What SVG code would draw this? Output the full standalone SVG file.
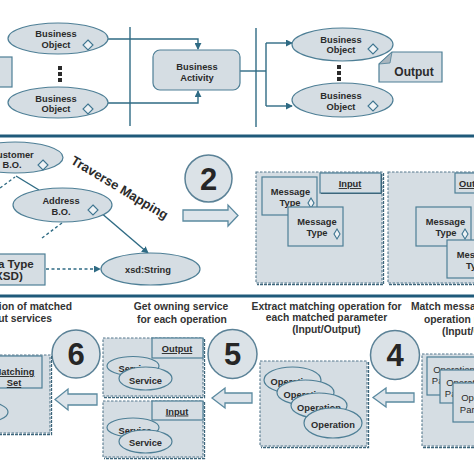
<svg xmlns="http://www.w3.org/2000/svg" width="474" height="474" viewBox="0 0 474 474">
<defs>
<style>
.t{font-family:"Liberation Sans",Arial,sans-serif;font-weight:bold;font-size:9.3px;fill:#2b2b2b;text-anchor:middle}
.tr{font-family:"Liberation Sans",Arial,sans-serif;font-size:9.5px;fill:#2b2b2b;text-anchor:middle}
.d{font-family:"Liberation Sans",Arial,sans-serif;font-weight:bold;font-size:10.3px;fill:#333;text-anchor:middle}
.n{font-family:"Liberation Sans",Arial,sans-serif;font-weight:bold;font-size:31px;fill:#262626;text-anchor:middle}
.sh{fill:#d5dde3;stroke:#4e7f96;stroke-width:1.2}
.dash{fill:#d5dde3;stroke:#56798e;stroke-width:1.1;stroke-dasharray:2.5,1.5}
.shadow{fill:none;stroke:#3d667b;stroke-width:1.3;stroke-dasharray:3,1}
.dia{fill:#eef2f5;stroke:#3e7590;stroke-width:1.1}
.con{fill:none;stroke:#2f6b84;stroke-width:1.4}
.cond{fill:none;stroke:#2f6b84;stroke-width:1.4;stroke-dasharray:3,2.5}
.sep{stroke:#1f5a7a;stroke-width:3}
.circ{fill:#dbe2e7;stroke:#5b8297;stroke-width:1.5}
.blk{fill:#dde4ea;stroke:#5b8aa0;stroke-width:1.3}
.ul{text-decoration:underline}
</style>
<marker id="ah" viewBox="0 0 8 8" refX="7" refY="4" markerWidth="7" markerHeight="7" markerUnits="userSpaceOnUse" orient="auto">
<path d="M0,0 L8,4 L0,8 z" fill="#2f6b84"/>
</marker>
</defs>
<rect width="474" height="474" fill="#ffffff"/>

<!-- section separators -->
<line class="sep" x1="0" y1="136" x2="474" y2="136"/>
<line class="sep" x1="0" y1="296" x2="474" y2="296"/>

<!-- ===== connectors ===== -->
<g id="connectors">
<line class="con" x1="130" y1="27" x2="130" y2="126"/>
<line class="con" x1="256" y1="28" x2="256" y2="127"/>
<path class="con" d="M108,39 H198 V49" marker-end="url(#ah)"/>
<path class="con" d="M108,103 H198 V91" marker-end="url(#ah)"/>
<path class="con" d="M240,71 H266"/>
<path class="con" d="M266,43 V106"/>
<path class="con" d="M266,43 H292" marker-end="url(#ah)"/>
<path class="con" d="M266,106 H292" marker-end="url(#ah)"/>
<line class="con" x1="16" y1="176" x2="39" y2="190"/>
<line class="cond" x1="0" y1="188" x2="15" y2="177"/>
<path class="con" d="M100,212 L148,253" marker-end="url(#ah)"/>
<line class="cond" x1="42" y1="238" x2="62" y2="223"/>
<path class="cond" d="M46,269 H100" marker-end="url(#ah)"/>
</g>

<!-- ===== top section ===== -->
<g id="input-box"><rect class="sh" x="-20" y="57" width="32" height="30"/></g>

<g id="bo1">
<ellipse class="sh" cx="58" cy="38.5" rx="50" ry="15.5"/>
<text class="t" x="56" y="37">Business</text>
<text class="t" x="56" y="48">Object</text>
<polygon class="dia" points="88,40 93,45 88,50 83,45"/>
</g>
<g id="dots1">
<rect x="58" y="66" width="4" height="4" fill="#2b2b2b"/>
<rect x="58" y="72" width="4" height="4" fill="#2b2b2b"/>
<rect x="58" y="78" width="4" height="4" fill="#2b2b2b"/>
</g>
<g id="bo2">
<ellipse class="sh" cx="58" cy="102.5" rx="50" ry="15.5"/>
<text class="t" x="56" y="101.5">Business</text>
<text class="t" x="56" y="112">Object</text>
<polygon class="dia" points="88,104 93,109 88,114 83,109"/>
</g>

<g id="activity">
<rect class="sh" x="153" y="50" width="87" height="40" rx="7"/>
<text class="t" x="197" y="70">Business</text>
<text class="t" x="197" y="81">Activity</text>
</g>

<g id="bo3">
<ellipse class="sh" cx="342.5" cy="44.5" rx="50.5" ry="16.5"/>
<text class="t" x="341" y="42.5">Business</text>
<text class="t" x="341" y="53">Object</text>
<polygon class="dia" points="373,44 378,49 373,54 368,49"/>
</g>
<g id="dots2">
<rect x="337" y="65" width="4" height="4" fill="#2b2b2b"/>
<rect x="337" y="71" width="4" height="4" fill="#2b2b2b"/>
<rect x="337" y="77" width="4" height="4" fill="#2b2b2b"/>
</g>
<g id="bo4">
<ellipse class="sh" cx="342.5" cy="100" rx="50.5" ry="17"/>
<text class="t" x="341" y="99">Business</text>
<text class="t" x="341" y="109.5">Object</text>
<polygon class="dia" points="373,101 378,106 373,111 368,106"/>
</g>

<g id="output-note">
<polygon class="sh" points="379,64 392,52 442,52 442,82 379,82"/>
<polygon points="379,64 392,52 390,63" fill="#aab6bf" stroke="#4e7f96" stroke-width="0.8"/>
<text x="414" y="76" style="font-family:'Liberation Sans',Arial,sans-serif;font-weight:bold;font-size:12px;fill:#2b2b2b;text-anchor:middle">Output</text>
</g>

<!-- ===== middle section ===== -->
<g id="customer">
<ellipse class="sh" cx="15" cy="157.5" rx="48" ry="15.5"/>
<text class="t" x="12" y="158">Customer</text>
<text class="t" x="12" y="168">B.O.</text>
<polygon class="dia" points="43,160 48,165 43,170 38,165"/>
</g>
<g id="address">
<ellipse class="sh" cx="62.5" cy="205" rx="49.5" ry="17"/>
<text class="t" x="61" y="203.5">Address</text>
<text class="t" x="61" y="215">B.O.</text>
<polygon class="dia" points="93,205 98,210 93,215 88,210"/>
</g>
<g id="datatype">
<rect class="sh" x="-40" y="254" width="85" height="31"/>
<text x="6.5" y="268" style="font-family:'Liberation Sans',Arial,sans-serif;font-weight:bold;font-size:11.6px;fill:#2b2b2b;text-anchor:middle">Data Type</text>
<text x="7" y="280" style="font-family:'Liberation Sans',Arial,sans-serif;font-weight:bold;font-size:11.6px;fill:#2b2b2b;text-anchor:middle">(XSD)</text>
</g>
<g id="xsdstring">
<ellipse class="sh" cx="150.5" cy="269" rx="49.5" ry="16"/>
<text class="t" x="148" y="272.5">xsd:String</text>
</g>
<g id="traverse-label">
<text transform="translate(70,163) rotate(31)" style="font-family:'Liberation Sans',Arial,sans-serif;font-weight:bold;font-size:13px;fill:#2b2b2b">Traverse Mapping</text>
</g>

<g id="step2">
<circle class="circ" cx="208.5" cy="178.5" r="23.5"/>
<text class="n" x="208.5" y="189.5">2</text>
</g>
<g id="arrow2">
<polygon class="blk" points="183,210 228,210 228,205 238,215.5 228,226 228,221 183,221"/>
</g>

<g id="msgbox-input">
<rect class="dash" x="256" y="172" width="126" height="111"/>
<path class="shadow" d="M383.5,173 V284.5 H257"/>
<rect class="sh" x="320" y="173" width="61" height="20"/>
<path d="M381.5,174 V193.5 H321" fill="none" stroke="#3d667b" stroke-width="1"/>
<text class="t ul" x="350" y="187">Input</text>
<rect class="sh" x="262" y="177" width="55" height="38"/>
<text class="t" x="290.5" y="195">Message</text>
<text class="t" x="290" y="206">Type</text>
<polygon class="dia" points="311,198 314,203 311,208 308,203"/>
<rect class="sh" x="288" y="207" width="55" height="39"/>
<text class="t" x="317" y="225">Message</text>
<text class="t" x="317" y="236">Type</text>
<polygon class="dia" points="337,229 340,234 337,239 334,234"/>
</g>

<g id="msgbox-output">
<rect class="dash" x="388" y="172" width="110" height="111"/>
<path class="shadow" d="M389,284.5 H498"/>
<rect class="sh" x="455" y="173" width="61" height="20"/>
<text class="t ul" x="459" y="187" style="text-anchor:start">Output</text>
<rect class="sh" x="416" y="207" width="55" height="39"/>
<text class="t" x="445.5" y="225">Message</text>
<text class="t" x="446" y="236">Type</text>
<polygon class="dia" points="465,229 468,234 465,239 462,234"/>
<rect class="sh" x="447" y="240" width="55" height="38"/>
<text class="t" x="476.5" y="258">Message</text>
<text class="t" x="476.5" y="268.5">Type</text>
</g>

<!-- ===== bottom section ===== -->
<g id="label6">
<text class="d" x="72" y="310" style="text-anchor:end">Intersection of matched</text>
<text class="d" x="52" y="322" style="text-anchor:end">Input/Output services</text>
</g>
<g id="label5">
<text class="d" x="181" y="310">Get owning service</text>
<text class="d" x="182" y="322.5">for each operation</text>
</g>
<g id="label4">
<text class="d" x="326.5" y="309.5">Extract matching operation for</text>
<text class="d" x="326.5" y="321">each matched parameter</text>
<text class="d" x="326.5" y="332.5">(Input/Output)</text>
</g>
<g id="label3">
<text class="d" x="411" y="310" style="text-anchor:start">Match message type to</text>
<text class="d" x="424" y="323" style="text-anchor:start">operation parameter</text>
<text class="d" x="442" y="335" style="text-anchor:start">(Input/Output)</text>
</g>

<g id="step6">
<circle class="circ" cx="76" cy="354" r="24"/>
<text class="n" x="76" y="365">6</text>
</g>
<g id="step5">
<circle class="circ" cx="232.5" cy="354" r="24.5"/>
<text class="n" x="232.5" y="365">5</text>
</g>
<g id="step4">
<circle class="circ" cx="395" cy="355" r="24.5"/>
<text class="n" x="395" y="366">4</text>
</g>

<g id="arrow6"><polygon class="blk" points="97,394 68,394 68,389 55,399.5 68,410 68,405 97,405"/></g>
<g id="arrow5"><polygon class="blk" points="252,393 225,393 225,388 212,398 225,408 225,403 252,403"/></g>
<g id="arrow4"><polygon class="blk" points="414,393 386,393 386,388 373,397.5 386,407 386,402 414,402"/></g>

<g id="matching-set">
<rect class="dash" x="-20" y="355" width="70" height="78"/>
<path class="shadow" d="M51.5,356 V434.5 H-20"/>
<rect class="sh" x="-20" y="356" width="62" height="32"/>
<text class="t ul" x="14" y="375">Matching</text>
<text class="t ul" x="14" y="386">Set</text>
<ellipse class="sh" cx="-15" cy="412" rx="23" ry="10"/>
</g>

<g id="services-output">
<rect class="dash" x="103" y="338" width="100" height="58"/>
<path class="shadow" d="M204.5,339 V397.5 H104"/>
<rect class="sh" x="152" y="338" width="51" height="20"/>
<text class="t ul" x="177" y="352">Output</text>
<ellipse class="sh" cx="133" cy="366" rx="26" ry="9.5"/>
<text class="t" x="135" y="372">Service</text>
<ellipse class="sh" cx="145.5" cy="378.5" rx="26.5" ry="11.5"/>
<text class="t" x="145.5" y="384">Service</text>
</g>

<g id="services-input">
<rect class="dash" x="103" y="401" width="100" height="56"/>
<path class="shadow" d="M204.5,402 V458.5 H104"/>
<rect class="sh" x="152" y="401" width="51" height="19"/>
<text class="t ul" x="177" y="414.5">Input</text>
<ellipse class="sh" cx="133" cy="427.5" rx="26" ry="9.5"/>
<text class="t" x="135" y="434">Service</text>
<ellipse class="sh" cx="145.5" cy="441.5" rx="26.5" ry="11.5"/>
<text class="t" x="145.5" y="446">Service</text>
</g>

<g id="operations">
<rect class="dash" x="260" y="361" width="107" height="85"/>
<path class="shadow" d="M368.5,362 V447.5 H261"/>
<ellipse class="sh" cx="292.5" cy="380" rx="28.5" ry="13"/>
<text class="t" x="292.5" y="384.5">Operation</text>
<ellipse class="sh" cx="305.5" cy="392.5" rx="28.5" ry="12.5"/>
<text class="t" x="305.5" y="397.5">Operation</text>
<ellipse class="sh" cx="319" cy="405.5" rx="28" ry="12.5"/>
<text class="t" x="319" y="410.5">Operation</text>
<ellipse class="sh" cx="333" cy="423" rx="29" ry="15"/>
<text class="t" x="333" y="428">Operation</text>
</g>

<g id="op-params">
<rect class="dash" x="422" y="354" width="80" height="92"/>
<path class="shadow" d="M423,447.5 H502"/>
<rect class="sh" x="427" y="357" width="55" height="38"/>
<text class="tr" x="454" y="373">Operation</text>
<text class="tr" x="454" y="384">Parameter</text>
<rect class="sh" x="440" y="370" width="55" height="33"/>
<text class="tr" x="467" y="386">Operation</text>
<text class="tr" x="467" y="397">Parameter</text>
<rect class="sh" x="453" y="383" width="55" height="39"/>
<text class="tr" x="482" y="401">Operation</text>
<text class="tr" x="482" y="413">Parameter</text>
</g>
</svg>
